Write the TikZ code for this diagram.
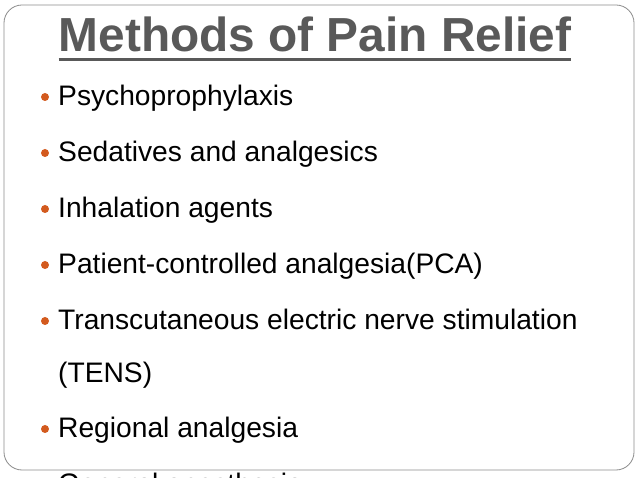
\documentclass[tikz,border=0pt]{standalone}
\usepackage{fontspec}
\setmainfont{Liberation Sans}
\definecolor{titlegray}{HTML}{595959}
\definecolor{bulletorange}{HTML}{D35A1E}
\definecolor{framegray}{HTML}{8C8C8C}
\begin{document}
\begin{tikzpicture}[x=1pt,y=-1pt,
  item/.style={anchor=base west,inner sep=0pt,font=\fontsize{28.2}{32}\selectfont},
  dot/.style={circle,fill=bulletorange,inner sep=0pt,minimum size=8pt}]
\useasboundingbox (0,0) rectangle (638,478);
\clip (0,0) rectangle (638,478);
\fill[white] (0,0) rectangle (638,478);
\draw[framegray,line width=0.8pt,rounded corners=18pt] (4,5) rectangle (634,470);
\node[anchor=base,inner sep=0pt,text=titlegray,font=\fontsize{47.8}{56}\bfseries\selectfont] (title) at (315,52) {Methods of Pain Relief};
\draw[titlegray,line width=3pt] ([yshift=-8pt]title.base west) -- ([yshift=-8pt]title.base east);
\foreach \t/\y/\n in {Psychoprophylaxis/106/a, Sedatives and analgesics/162/b, Inhalation agents/218/c, Patient-controlled analgesia(PCA)/274/d, Transcutaneous electric nerve stimulation/330/e, Regional analgesia/438/g, General anesthesia/494/h}{
  \node[item] (\n) at (58,\y) {\t};
  \node[dot] (d\n) at (45,\y-9) {};
}
\node[item] (f) at (58,383) {(TENS)};
\end{tikzpicture}
\end{document}
